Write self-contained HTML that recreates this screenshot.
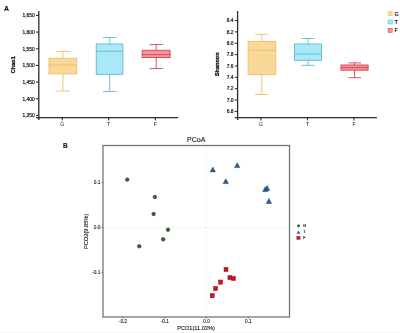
<!DOCTYPE html>
<html><head><meta charset="utf-8"><style>
html,body{margin:0;padding:0;background:#fff;width:400px;height:333px;overflow:hidden}
svg{display:block;font-family:"Liberation Sans", sans-serif}
text{filter:grayscale(1)}
</style></head><body>
<svg width="400" height="333" viewBox="0 0 400 333">
<rect width="400" height="333" fill="#fff"/>
<text x="3.9" y="10.8" font-size="6.9" font-weight="bold" fill="#111" stroke="#111" stroke-width="0.15">A</text>
<line x1="38.8" y1="11" x2="38.8" y2="120" stroke="#2b2b2b" stroke-width="1.3"/>
<line x1="36.0" y1="117.6" x2="178.10000000000002" y2="117.6" stroke="#2b2b2b" stroke-width="1.3"/>
<line x1="36.0" y1="15.45" x2="38.8" y2="15.45" stroke="#2b2b2b" stroke-width="1.05"/>
<text x="34.699999999999996" y="17.2" text-anchor="end" font-size="4.85" fill="#111" stroke="#111" stroke-width="0.2">1,650</text>
<line x1="36.0" y1="32.11" x2="38.8" y2="32.11" stroke="#2b2b2b" stroke-width="1.05"/>
<text x="34.699999999999996" y="33.86" text-anchor="end" font-size="4.85" fill="#111" stroke="#111" stroke-width="0.2">1,600</text>
<line x1="36.0" y1="48.769999999999996" x2="38.8" y2="48.769999999999996" stroke="#2b2b2b" stroke-width="1.05"/>
<text x="34.699999999999996" y="50.519999999999996" text-anchor="end" font-size="4.85" fill="#111" stroke="#111" stroke-width="0.2">1,550</text>
<line x1="36.0" y1="65.43" x2="38.8" y2="65.43" stroke="#2b2b2b" stroke-width="1.05"/>
<text x="34.699999999999996" y="67.18" text-anchor="end" font-size="4.85" fill="#111" stroke="#111" stroke-width="0.2">1,500</text>
<line x1="36.0" y1="82.09" x2="38.8" y2="82.09" stroke="#2b2b2b" stroke-width="1.05"/>
<text x="34.699999999999996" y="83.84" text-anchor="end" font-size="4.85" fill="#111" stroke="#111" stroke-width="0.2">1,450</text>
<line x1="36.0" y1="98.75" x2="38.8" y2="98.75" stroke="#2b2b2b" stroke-width="1.05"/>
<text x="34.699999999999996" y="100.5" text-anchor="end" font-size="4.85" fill="#111" stroke="#111" stroke-width="0.2">1,400</text>
<line x1="36.0" y1="115.41000000000001" x2="38.8" y2="115.41000000000001" stroke="#2b2b2b" stroke-width="1.05"/>
<text x="34.699999999999996" y="117.16000000000001" text-anchor="end" font-size="4.85" fill="#111" stroke="#111" stroke-width="0.2">1,350</text>
<line x1="62.3" y1="117.7" x2="62.3" y2="120.4" stroke="#2b2b2b" stroke-width="1.1"/>
<text x="62.3" y="125.6" text-anchor="middle" font-size="5" fill="#111">G</text>
<line x1="108.7" y1="117.7" x2="108.7" y2="120.4" stroke="#2b2b2b" stroke-width="1.1"/>
<text x="108.7" y="125.6" text-anchor="middle" font-size="5" fill="#111">T</text>
<line x1="155.3" y1="117.7" x2="155.3" y2="120.4" stroke="#2b2b2b" stroke-width="1.1"/>
<text x="155.3" y="125.6" text-anchor="middle" font-size="5" fill="#111">F</text>
<text transform="translate(14.5,64.7) rotate(-90)" text-anchor="middle" font-size="5.6" font-weight="bold" fill="#111" stroke="#111" stroke-width="0.3">Chao1</text>
<line x1="62.9" y1="51.4" x2="62.9" y2="58.3" stroke="#EFBD60" stroke-width="0.9"/>
<line x1="62.9" y1="73.9" x2="62.9" y2="91" stroke="#EFBD60" stroke-width="0.9"/>
<line x1="56" y1="51.4" x2="70" y2="51.4" stroke="#EFBD60" stroke-width="0.9"/>
<line x1="56" y1="91" x2="70" y2="91" stroke="#EFBD60" stroke-width="0.9"/>
<rect x="49" y="58.3" width="27.70" height="15.60" fill="#F9D99A" stroke="#EFBD60" stroke-width="0.9"/>
<line x1="49" y1="65" x2="76.7" y2="65" stroke="#EFBD60" stroke-width="0.9"/>
<line x1="109.7" y1="37.5" x2="109.7" y2="44.0" stroke="#5EBAD2" stroke-width="0.9"/>
<line x1="109.7" y1="74.3" x2="109.7" y2="91.5" stroke="#5EBAD2" stroke-width="0.9"/>
<line x1="103" y1="37.5" x2="116.5" y2="37.5" stroke="#5EBAD2" stroke-width="0.9"/>
<line x1="103" y1="91.5" x2="116.5" y2="91.5" stroke="#5EBAD2" stroke-width="0.9"/>
<rect x="96.2" y="44.0" width="26.70" height="30.30" fill="#AAE8F8" stroke="#5EBAD2" stroke-width="0.9"/>
<line x1="96.2" y1="51.3" x2="122.9" y2="51.3" stroke="#5EBAD2" stroke-width="0.9"/>
<line x1="156.2" y1="44.6" x2="156.2" y2="50.3" stroke="#D4434F" stroke-width="0.9"/>
<line x1="156.2" y1="57.6" x2="156.2" y2="68.6" stroke="#D4434F" stroke-width="0.9"/>
<line x1="149.7" y1="44.6" x2="162.9" y2="44.6" stroke="#D4434F" stroke-width="0.9"/>
<line x1="149.7" y1="68.6" x2="162.9" y2="68.6" stroke="#D4434F" stroke-width="0.9"/>
<rect x="142.2" y="50.3" width="27.90" height="7.30" fill="#F4949E" stroke="#D4434F" stroke-width="0.9"/>
<line x1="142.2" y1="54.6" x2="170.1" y2="54.6" stroke="#D4434F" stroke-width="0.9"/>
<line x1="237.6" y1="11" x2="237.6" y2="120" stroke="#2b2b2b" stroke-width="1.3"/>
<line x1="234.79999999999998" y1="117.6" x2="376.9" y2="117.6" stroke="#2b2b2b" stroke-width="1.3"/>
<line x1="234.79999999999998" y1="20.5" x2="237.6" y2="20.5" stroke="#2b2b2b" stroke-width="1.05"/>
<text x="233.5" y="22.25" text-anchor="end" font-size="4.85" fill="#111" stroke="#111" stroke-width="0.2">8.4</text>
<line x1="234.79999999999998" y1="31.86" x2="237.6" y2="31.86" stroke="#2b2b2b" stroke-width="1.05"/>
<text x="233.5" y="33.61" text-anchor="end" font-size="4.85" fill="#111" stroke="#111" stroke-width="0.2">8.2</text>
<line x1="234.79999999999998" y1="43.22" x2="237.6" y2="43.22" stroke="#2b2b2b" stroke-width="1.05"/>
<text x="233.5" y="44.97" text-anchor="end" font-size="4.85" fill="#111" stroke="#111" stroke-width="0.2">8.0</text>
<line x1="234.79999999999998" y1="54.58" x2="237.6" y2="54.58" stroke="#2b2b2b" stroke-width="1.05"/>
<text x="233.5" y="56.33" text-anchor="end" font-size="4.85" fill="#111" stroke="#111" stroke-width="0.2">7.8</text>
<line x1="234.79999999999998" y1="65.94" x2="237.6" y2="65.94" stroke="#2b2b2b" stroke-width="1.05"/>
<text x="233.5" y="67.69" text-anchor="end" font-size="4.85" fill="#111" stroke="#111" stroke-width="0.2">7.6</text>
<line x1="234.79999999999998" y1="77.3" x2="237.6" y2="77.3" stroke="#2b2b2b" stroke-width="1.05"/>
<text x="233.5" y="79.05" text-anchor="end" font-size="4.85" fill="#111" stroke="#111" stroke-width="0.2">7.4</text>
<line x1="234.79999999999998" y1="88.66" x2="237.6" y2="88.66" stroke="#2b2b2b" stroke-width="1.05"/>
<text x="233.5" y="90.41" text-anchor="end" font-size="4.85" fill="#111" stroke="#111" stroke-width="0.2">7.2</text>
<line x1="234.79999999999998" y1="100.02" x2="237.6" y2="100.02" stroke="#2b2b2b" stroke-width="1.05"/>
<text x="233.5" y="101.77" text-anchor="end" font-size="4.85" fill="#111" stroke="#111" stroke-width="0.2">7.0</text>
<line x1="234.79999999999998" y1="111.38" x2="237.6" y2="111.38" stroke="#2b2b2b" stroke-width="1.05"/>
<text x="233.5" y="113.13" text-anchor="end" font-size="4.85" fill="#111" stroke="#111" stroke-width="0.2">6.8</text>
<line x1="260.9" y1="117.7" x2="260.9" y2="120.4" stroke="#2b2b2b" stroke-width="1.1"/>
<text x="260.9" y="125.6" text-anchor="middle" font-size="5" fill="#111">G</text>
<line x1="307.5" y1="117.7" x2="307.5" y2="120.4" stroke="#2b2b2b" stroke-width="1.1"/>
<text x="307.5" y="125.6" text-anchor="middle" font-size="5" fill="#111">T</text>
<line x1="354.0" y1="117.7" x2="354.0" y2="120.4" stroke="#2b2b2b" stroke-width="1.1"/>
<text x="354.0" y="125.6" text-anchor="middle" font-size="5" fill="#111">F</text>
<text transform="translate(219.0,64.3) rotate(-90)" text-anchor="middle" font-size="5.6" font-weight="bold" fill="#111" stroke="#111" stroke-width="0.3">Shannon</text>
<line x1="261.8" y1="34.3" x2="261.8" y2="41.4" stroke="#EFBD60" stroke-width="0.9"/>
<line x1="261.8" y1="74.6" x2="261.8" y2="94.5" stroke="#EFBD60" stroke-width="0.9"/>
<line x1="255.1" y1="34.3" x2="268.4" y2="34.3" stroke="#EFBD60" stroke-width="0.9"/>
<line x1="255.1" y1="94.5" x2="268.4" y2="94.5" stroke="#EFBD60" stroke-width="0.9"/>
<rect x="248.1" y="41.4" width="27.70" height="33.20" fill="#F9D99A" stroke="#EFBD60" stroke-width="0.9"/>
<line x1="248.1" y1="50.3" x2="275.8" y2="50.3" stroke="#EFBD60" stroke-width="0.9"/>
<line x1="308.2" y1="38.5" x2="308.2" y2="44.0" stroke="#5EBAD2" stroke-width="0.9"/>
<line x1="308.2" y1="60.3" x2="308.2" y2="65.3" stroke="#5EBAD2" stroke-width="0.9"/>
<line x1="301.5" y1="38.5" x2="314.5" y2="38.5" stroke="#5EBAD2" stroke-width="0.9"/>
<line x1="301.5" y1="65.3" x2="314.5" y2="65.3" stroke="#5EBAD2" stroke-width="0.9"/>
<rect x="294.5" y="44.0" width="27.00" height="16.30" fill="#AAE8F8" stroke="#5EBAD2" stroke-width="0.9"/>
<line x1="294.5" y1="54.0" x2="321.5" y2="54.0" stroke="#5EBAD2" stroke-width="0.9"/>
<line x1="354.6" y1="62.9" x2="354.6" y2="65.0" stroke="#D4434F" stroke-width="0.9"/>
<line x1="354.6" y1="70.2" x2="354.6" y2="77.7" stroke="#D4434F" stroke-width="0.9"/>
<line x1="348.5" y1="62.9" x2="361.1" y2="62.9" stroke="#D4434F" stroke-width="0.9"/>
<line x1="348.5" y1="77.7" x2="361.1" y2="77.7" stroke="#D4434F" stroke-width="0.9"/>
<rect x="340.9" y="65.0" width="27.20" height="5.20" fill="#F4949E" stroke="#D4434F" stroke-width="0.9"/>
<line x1="340.9" y1="67.6" x2="368.1" y2="67.6" stroke="#D4434F" stroke-width="0.9"/>
<rect x="388.1" y="11.6" width="4.1" height="3.9" fill="#F9D99A" stroke="#EFBD60" stroke-width="0.6"/>
<text x="394.4" y="15.5" font-size="5.6" font-weight="bold" fill="#111">G</text>
<rect x="388.1" y="20.0" width="4.1" height="3.9" fill="#AAE8F8" stroke="#5EBAD2" stroke-width="0.6"/>
<text x="394.4" y="23.9" font-size="5.6" font-weight="bold" fill="#111">T</text>
<rect x="388.1" y="28.400000000000002" width="4.1" height="3.9" fill="#F4949E" stroke="#D4434F" stroke-width="0.6"/>
<text x="394.4" y="32.3" font-size="5.6" font-weight="bold" fill="#111">F</text>
<text x="63.1" y="148.1" font-size="6.4" font-weight="bold" fill="#111" stroke="#111" stroke-width="0.15">B</text>
<text x="196.2" y="141.9" text-anchor="middle" font-size="7.0" fill="#111" stroke="#111" stroke-width="0.12">PCoA</text>
<line x1="103.0" y1="227.6" x2="289.5" y2="227.6" stroke="#e2e2e2" stroke-width="0.8" stroke-dasharray="1.8,2.2" stroke-dashoffset="-1"/>
<line x1="206.5" y1="145.5" x2="206.5" y2="317.0" stroke="#e2e2e2" stroke-width="0.8" stroke-dasharray="1.8,2.2" stroke-dashoffset="-1"/>
<rect x="103.0" y="145.5" width="186.50" height="171.50" fill="none" stroke="#707070" stroke-width="1.25"/>
<line x1="122.89999999999999" y1="317.0" x2="122.89999999999999" y2="318.6" stroke="#444" stroke-width="0.6"/>
<text x="122.89999999999999" y="323.3" text-anchor="middle" font-size="4.7" fill="#111" stroke="#111" stroke-width="0.1">-0.2</text>
<line x1="164.7" y1="317.0" x2="164.7" y2="318.6" stroke="#444" stroke-width="0.6"/>
<text x="164.7" y="323.3" text-anchor="middle" font-size="4.7" fill="#111" stroke="#111" stroke-width="0.1">-0.1</text>
<line x1="206.5" y1="317.0" x2="206.5" y2="318.6" stroke="#444" stroke-width="0.6"/>
<text x="206.5" y="323.3" text-anchor="middle" font-size="4.7" fill="#111" stroke="#111" stroke-width="0.1">0.0</text>
<line x1="248.3" y1="317.0" x2="248.3" y2="318.6" stroke="#444" stroke-width="0.6"/>
<text x="248.3" y="323.3" text-anchor="middle" font-size="4.7" fill="#111" stroke="#111" stroke-width="0.1">0.1</text>
<line x1="101.4" y1="182.5" x2="103.0" y2="182.5" stroke="#444" stroke-width="0.6"/>
<text x="100.4" y="184.2" text-anchor="end" font-size="4.8" fill="#111" stroke="#111" stroke-width="0.1">0.1</text>
<line x1="101.4" y1="227.6" x2="103.0" y2="227.6" stroke="#444" stroke-width="0.6"/>
<text x="100.4" y="229.29999999999998" text-anchor="end" font-size="4.8" fill="#111" stroke="#111" stroke-width="0.1">0.0</text>
<line x1="101.4" y1="272.7" x2="103.0" y2="272.7" stroke="#444" stroke-width="0.6"/>
<text x="100.4" y="274.4" text-anchor="end" font-size="4.8" fill="#111" stroke="#111" stroke-width="0.1">-0.1</text>
<text x="196" y="330.4" text-anchor="middle" font-size="5.6" fill="#111" stroke="#111" stroke-width="0.1">PCO1(11.03%)</text>
<text transform="translate(87.6,231.4) rotate(-90)" text-anchor="middle" font-size="5.7" fill="#111" stroke="#111" stroke-width="0.1">PCO2(9.85%)</text>
<circle cx="127.25" cy="179.6" r="1.7" fill="#33703A" stroke="#18461D" stroke-width="0.8"/>
<circle cx="154.85" cy="196.95" r="1.7" fill="#33703A" stroke="#18461D" stroke-width="0.8"/>
<circle cx="153.6" cy="214.0" r="1.7" fill="#33703A" stroke="#18461D" stroke-width="0.8"/>
<circle cx="168" cy="229.7" r="1.7" fill="#33703A" stroke="#18461D" stroke-width="0.8"/>
<circle cx="163.2" cy="239.3" r="1.7" fill="#33703A" stroke="#18461D" stroke-width="0.8"/>
<circle cx="139.3" cy="246.3" r="1.7" fill="#33703A" stroke="#18461D" stroke-width="0.8"/>
<path d="M212.80,167.10 L215.40,171.90 L210.20,171.90 Z" fill="#24609A" stroke="#173C5E" stroke-width="0.5" stroke-linejoin="round"/>
<path d="M237.20,162.80 L239.80,167.60 L234.60,167.60 Z" fill="#24609A" stroke="#173C5E" stroke-width="0.5" stroke-linejoin="round"/>
<path d="M225.80,178.80 L228.40,183.60 L223.20,183.60 Z" fill="#24609A" stroke="#173C5E" stroke-width="0.5" stroke-linejoin="round"/>
<path d="M265.30,186.80 L267.90,191.60 L262.70,191.60 Z" fill="#24609A" stroke="#173C5E" stroke-width="0.5" stroke-linejoin="round"/>
<path d="M267.10,185.60 L269.70,190.40 L264.50,190.40 Z" fill="#24609A" stroke="#173C5E" stroke-width="0.5" stroke-linejoin="round"/>
<path d="M268.90,198.60 L271.50,203.40 L266.30,203.40 Z" fill="#24609A" stroke="#173C5E" stroke-width="0.5" stroke-linejoin="round"/>
<rect x="224.00" y="267.35" width="4.0" height="4.2" fill="#C8161E" stroke="#9A1016" stroke-width="0.45"/>
<rect x="227.90" y="275.50" width="4.0" height="4.2" fill="#C8161E" stroke="#9A1016" stroke-width="0.45"/>
<rect x="231.50" y="276.40" width="4.0" height="4.2" fill="#C8161E" stroke="#9A1016" stroke-width="0.45"/>
<rect x="218.60" y="280.00" width="4.0" height="4.2" fill="#C8161E" stroke="#9A1016" stroke-width="0.45"/>
<rect x="213.60" y="286.40" width="4.0" height="4.2" fill="#C8161E" stroke="#9A1016" stroke-width="0.45"/>
<rect x="210.20" y="293.60" width="4.0" height="4.2" fill="#C8161E" stroke="#9A1016" stroke-width="0.45"/>
<circle cx="298.5" cy="225.8" r="1.5" fill="#33703A"/>
<path d="M298.50,230.80 L300.10,233.60 L296.90,233.60 Z" fill="#24609A" stroke="#173C5E" stroke-width="0.3" stroke-linejoin="round"/>
<rect x="296.8" y="236.3" width="3.4" height="3.2" fill="#C8161E" stroke="#9A1016" stroke-width="0.3"/>
<text x="303.0" y="227.4" font-size="4.2" fill="#111" stroke="#111" stroke-width="0.12">G</text>
<text x="303.0" y="233.4" font-size="4.2" fill="#111" stroke="#111" stroke-width="0.12">T</text>
<text x="303.0" y="239.2" font-size="4.2" fill="#111" stroke="#111" stroke-width="0.12">F</text>
<rect x="0" y="332" width="400" height="1" fill="#f7f7f7"/>
</svg>
</body></html>
